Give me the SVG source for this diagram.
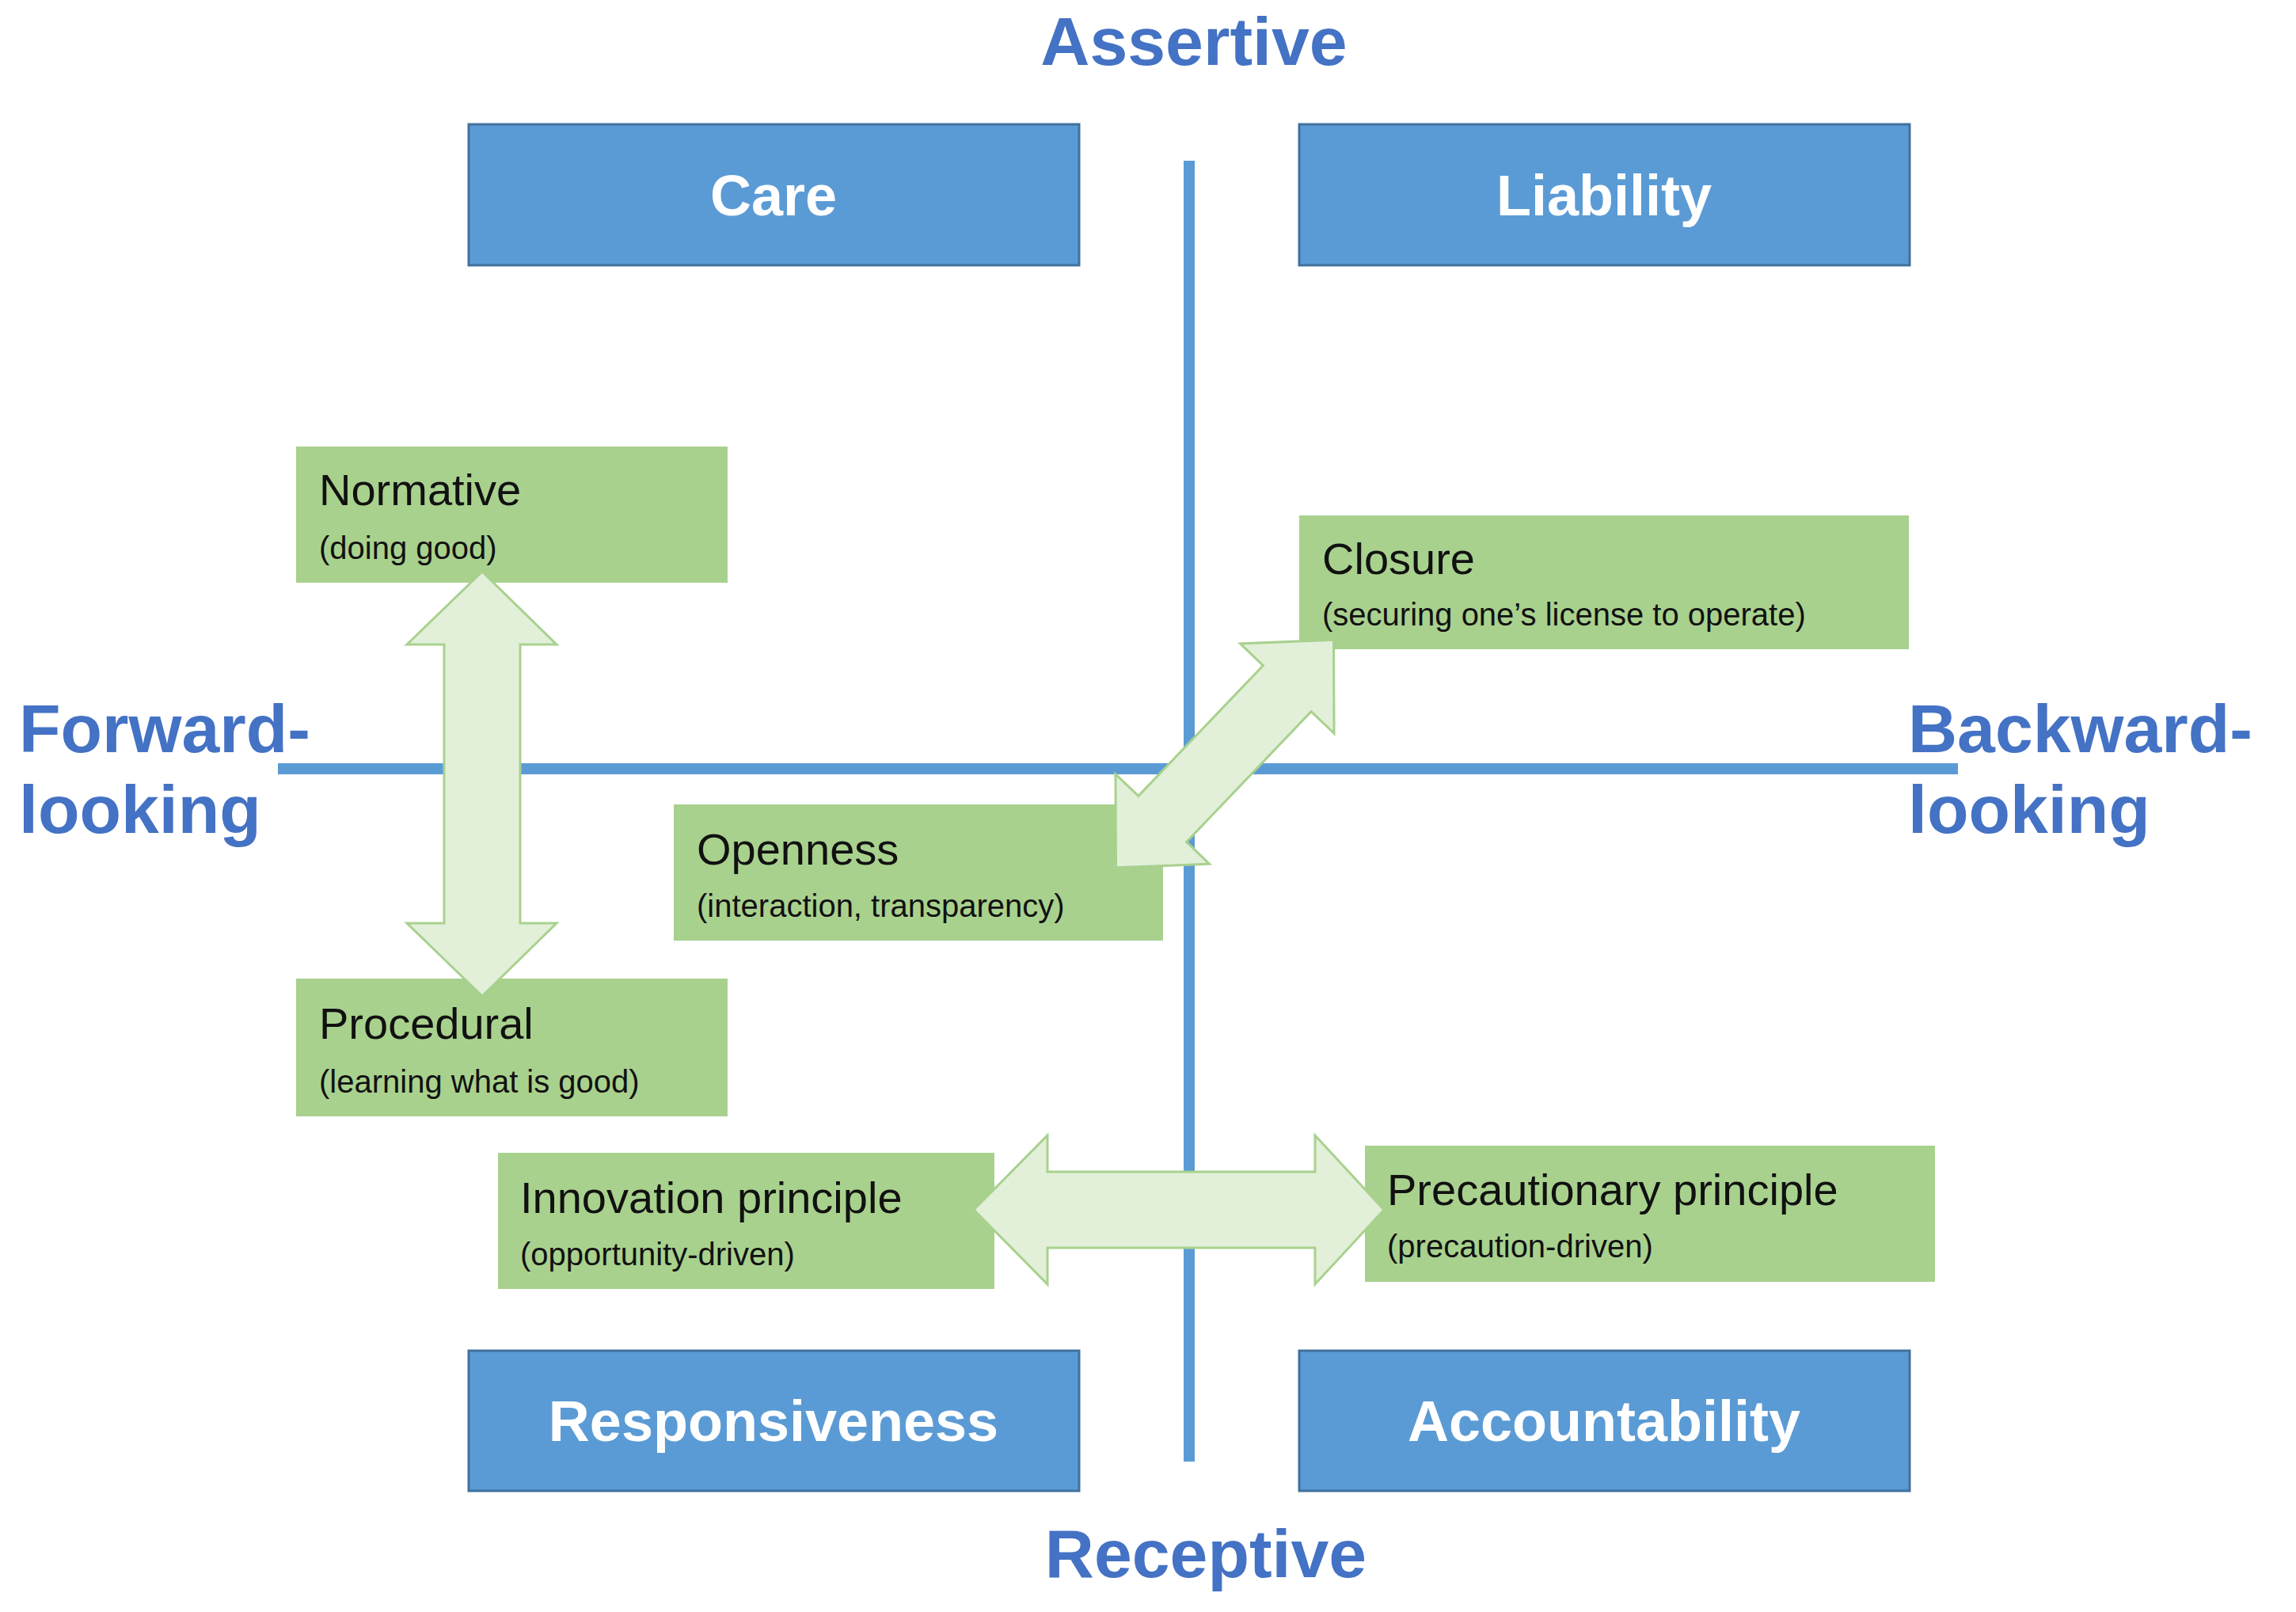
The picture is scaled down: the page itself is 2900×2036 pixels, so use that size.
<svg xmlns="http://www.w3.org/2000/svg" width="2900" height="2036" viewBox="0 0 2900 2036">
<style>
.blue{fill:#5B9BD5;stroke:#41719C;stroke-width:3}
.green{fill:#A9D18E}
.arr{fill:#E2F0D9;stroke:#A9D18E;stroke-width:3}
.bt{font-family:"Liberation Sans",Arial,sans-serif;font-weight:bold;font-size:72px;fill:#fff;text-anchor:middle}
.ax{font-family:"Liberation Sans",Arial,sans-serif;font-weight:bold;font-size:86px;fill:#4472C4}
.t1{font-family:"Liberation Sans",Arial,sans-serif;font-size:56px;fill:#111}
.t2{font-family:"Liberation Sans",Arial,sans-serif;font-size:40px;fill:#111}
.axis{stroke:#5B9BD5;stroke-width:14}
</style>
<rect width="2900" height="2036" fill="#fff"/>
<g id="axes">
<line class="axis" x1="1502" y1="203" x2="1502" y2="1846"/>
<line class="axis" x1="351" y1="971" x2="2473" y2="971"/>
</g>
<g id="labels">
<text class="ax" x="1508" y="82" text-anchor="middle">Assertive</text>
<text class="ax" x="1523" y="1992" text-anchor="middle">Receptive</text>
<text class="ax" x="24" y="950">Forward-</text>
<text class="ax" x="24" y="1052">looking</text>
<text class="ax" x="2410" y="950">Backward-</text>
<text class="ax" x="2410" y="1052">looking</text>
</g>
<g id="care"><rect class="blue" x="592" y="157" width="771" height="178"/><text class="bt" x="977" y="272">Care</text></g>
<g id="liability"><rect class="blue" x="1641" y="157" width="771" height="178"/><text class="bt" x="2026" y="272">Liability</text></g>
<g id="responsiveness"><rect class="blue" x="592" y="1706" width="771" height="177"/><text class="bt" x="977" y="1820">Responsiveness</text></g>
<g id="accountability"><rect class="blue" x="1641" y="1706" width="771" height="177"/><text class="bt" x="2026" y="1820">Accountability</text></g>
<g id="normative"><rect class="green" x="374" y="564" width="545" height="172"/><text class="t1" x="403" y="638">Normative</text><text class="t2" x="403" y="706">(doing good)</text></g>
<g id="closure"><rect class="green" x="1641" y="651" width="770" height="169"/><text class="t1" x="1670" y="725">Closure</text><text class="t2" x="1670" y="790">(securing one’s license to operate)</text></g>
<g id="openness"><rect class="green" x="851" y="1016" width="618" height="172"/><text class="t1" x="880" y="1092">Openness</text><text class="t2" x="880" y="1158">(interaction, transparency)</text></g>
<g id="procedural"><rect class="green" x="374" y="1236" width="545" height="174"/><text class="t1" x="403" y="1312">Procedural</text><text class="t2" x="403" y="1380">(learning what is good)</text></g>
<g id="innovation"><rect class="green" x="629" y="1456" width="627" height="172"/><text class="t1" x="657" y="1532">Innovation principle</text><text class="t2" x="657" y="1598">(opportunity-driven)</text></g>
<g id="precautionary"><rect class="green" x="1724" y="1447" width="720" height="172"/><text class="t1" x="1752" y="1522">Precautionary principle</text><text class="t2" x="1752" y="1588">(precaution-driven)</text></g>
<g id="connectors">
<polygon class="arr" points="609,722 703,814 657,814 657,1166 703,1166 609,1258 514,1166 561,1166 561,814 514,814"/>
<polygon class="arr" points="1230,1528 1323,1434 1323,1480 1661,1480 1661,1434 1748,1528 1661,1622 1661,1576 1323,1576 1323,1622"/>
<polygon class="arr" transform="translate(1547,952) rotate(-46.3)" points="-199,0 -114,-82 -114,-42 114,-42 114,-82 199,0 114,82 114,42 -114,42 -114,82"/>
</g>
</svg>
